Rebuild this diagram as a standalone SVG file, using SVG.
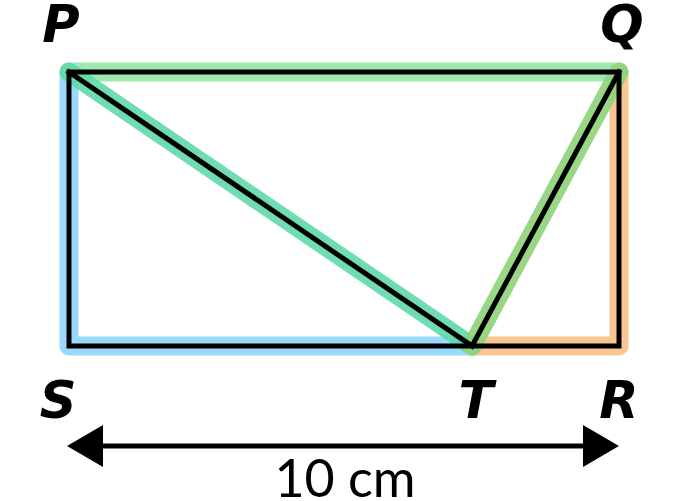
<svg xmlns="http://www.w3.org/2000/svg" width="688" height="501" viewBox="0 0 688 501">
<style>
.hl{fill:none;stroke-width:19;stroke-linecap:round;stroke-linejoin:round}
.edge{fill:none;stroke:#000;stroke-width:5;stroke-linejoin:miter;stroke-linecap:square}
.lbl{font-family:"DejaVu Sans",sans-serif;font-weight:700;font-style:italic;font-size:51px;fill:#000;text-anchor:middle}
.dim{font-family:Lato,"Open Sans",sans-serif;font-weight:400;font-size:52px;fill:#000;text-anchor:middle}
.head{fill:#000}
</style>
<g id="highlights">
<polyline class="hl" points="69,72 69,346 472,346" stroke="#9AD8FC"/>
<polyline class="hl" points="619,72 619,346 472,346" stroke="#F9C792"/>
<line class="hl" x1="69" y1="72" x2="619" y2="72" stroke="#99E8AE" stroke-opacity="0.95"/>
<line class="hl" x1="69" y1="72" x2="472" y2="346" stroke="#5FD8AA" stroke-opacity="0.9"/>
<line class="hl" x1="619" y1="72" x2="472" y2="346" stroke="#8ED37A" stroke-opacity="0.9"/>
</g>
<g id="connectors">
<rect class="edge" x="69" y="72" width="550" height="274"/>
<line class="edge" x1="69" y1="72" x2="472" y2="346"/>
<line class="edge" x1="619" y1="72" x2="472" y2="346"/>
<line x1="100" y1="446" x2="586" y2="446" stroke="#000" stroke-width="5"/>
<polygon class="head" points="67,446 103,425 103,467"/>
<polygon class="head" points="619,446 583,425 583,467"/>
</g>
<g id="node-P"><text class="lbl" x="61" y="42">P</text></g>
<g id="node-Q"><text class="lbl" x="622" y="42">Q</text></g>
<g id="node-S"><text class="lbl" x="58" y="418">S</text></g>
<g id="node-T"><text class="lbl" x="476" y="418">T</text></g>
<g id="node-R"><text class="lbl" x="619" y="418">R</text></g>
<g id="label-10cm"><text class="dim" x="345" y="497">10 cm</text></g>
</svg>
